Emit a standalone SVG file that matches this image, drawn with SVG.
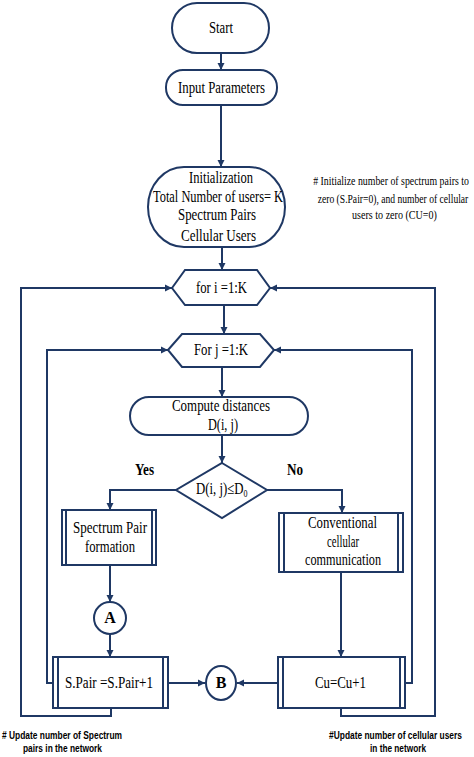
<svg xmlns="http://www.w3.org/2000/svg" width="474" height="757" viewBox="0 0 474 757">
<style>
.s{fill:#fff;stroke:#1f3864;stroke-width:2}
.c{fill:none;stroke:#1f3864;stroke-width:2}
.t{font-family:"Liberation Serif","Times New Roman",serif;font-size:16px;fill:#000;text-anchor:middle}
.n{font-family:"Liberation Serif","Times New Roman",serif;font-size:12px;fill:#000;text-anchor:middle}
.b{font-weight:bold}
.sn{font-family:"Liberation Sans",Arial,sans-serif;font-size:10.5px;font-weight:bold;fill:#000;text-anchor:middle}
</style>
<defs>
<marker id="ah" markerWidth="8" markerHeight="8" refX="7" refY="4" orient="auto" markerUnits="userSpaceOnUse">
<path d="M0,0.5 L7,4 L0,7.5 Z" fill="#1f3864"/>
</marker>
</defs>
<rect width="474" height="757" fill="#fff"/>
<g id="connectors" class="c" marker-end="url(#ah)">
<line x1="221" y1="53" x2="221" y2="70"/>
<line x1="221" y1="105" x2="221" y2="167"/>
<line x1="222" y1="247" x2="222" y2="270"/>
<line x1="224" y1="305" x2="224" y2="334"/>
<line x1="222" y1="367" x2="222" y2="397"/>
<line x1="222" y1="435" x2="222" y2="463"/>
<polyline points="176,490 110,490 110,510"/>
<polyline points="267,490 342,490 342,513"/>
<line x1="110" y1="565" x2="110" y2="602"/>
<line x1="110" y1="634" x2="110" y2="657"/>
<line x1="341" y1="572" x2="341" y2="657"/>
<line x1="168" y1="683" x2="205" y2="683"/>
<line x1="278" y1="683" x2="237" y2="683"/>
<polyline points="53,683 47,683 47,350 168,350"/>
<polyline points="405,683 412,683 412,350 274,350"/>
<polyline points="111,708 111,716 21,716 21,288 172,288"/>
<polyline points="341,708 341,716 435,716 435,288 270,288"/>
</g>
<g id="start">
<rect class="s" x="172" y="3" width="97" height="50" rx="25"/>
<text class="t" x="221" y="33" textLength="24" lengthAdjust="spacingAndGlyphs">Start</text>
</g>
<g id="input">
<rect class="s" x="166" y="70" width="111" height="35" rx="17"/>
<text class="t" x="221.5" y="93" textLength="87" lengthAdjust="spacingAndGlyphs">Input Parameters</text>
</g>
<g id="init">
<rect class="s" x="148" y="167" width="137" height="80" rx="36" ry="40"/>
<text class="t" x="221" y="183" textLength="64" lengthAdjust="spacingAndGlyphs">Initialization</text>
<text class="t" x="218" y="202" textLength="130" lengthAdjust="spacingAndGlyphs">Total Number of users= K</text>
<text class="t" x="217" y="220" textLength="78" lengthAdjust="spacingAndGlyphs">Spectrum Pairs</text>
<text class="t" x="218.5" y="241" textLength="75" lengthAdjust="spacingAndGlyphs">Cellular Users</text>
</g>
<g id="init-note">
<text class="n" transform="translate(391,185) scale(0.82,1)"># Initialize number of spectrum pairs to</text>
<text class="n" transform="translate(393,203) scale(0.8,1)">zero (S.Pair=0), and number of cellular</text>
<text class="n" transform="translate(394.5,219) scale(0.84,1)">users to zero (CU=0)</text>
</g>
<g id="for-i">
<polygon class="s" points="172,288 185,270 257,270 270,288 257,305 185,305"/>
<text class="t" x="221.5" y="293" textLength="51" lengthAdjust="spacingAndGlyphs">for i =1:K</text>
</g>
<g id="for-j">
<polygon class="s" points="168,350 182,334 260,334 274,350 260,367 182,367"/>
<text class="t" x="221" y="355" textLength="54" lengthAdjust="spacingAndGlyphs">For j =1:K</text>
</g>
<g id="compute">
<rect class="s" x="130" y="397" width="178" height="38" rx="19"/>
<text class="t" x="221" y="411" textLength="98" lengthAdjust="spacingAndGlyphs">Compute distances</text>
<text class="t" x="223" y="430" textLength="30" lengthAdjust="spacingAndGlyphs">D(i, j)</text>
</g>
<g id="decision">
<polygon class="s" points="222,463 267,490 222,518 176,490"/>
<text class="t" transform="translate(196,494) scale(0.8,1)" style="text-anchor:start">D(i, j)≤D<tspan font-size="10" dy="3">0</tspan></text>
<text class="t b" x="144.5" y="475" textLength="19" lengthAdjust="spacingAndGlyphs">Yes</text>
<text class="t b" x="295" y="475" textLength="16" lengthAdjust="spacingAndGlyphs">No</text>
</g>
<g id="spectrum-pair">
<rect class="s" x="62" y="510" width="94" height="55"/>
<line class="c" x1="66" y1="510" x2="66" y2="565"/>
<line class="c" x1="152" y1="510" x2="152" y2="565"/>
<text class="t" x="110" y="533" textLength="74" lengthAdjust="spacingAndGlyphs">Spectrum Pair</text>
<text class="t" x="110" y="552" textLength="50" lengthAdjust="spacingAndGlyphs">formation</text>
</g>
<g id="conventional">
<rect class="s" x="279" y="513" width="124" height="59"/>
<line class="c" x1="284" y1="513" x2="284" y2="572"/>
<line class="c" x1="398" y1="513" x2="398" y2="572"/>
<text class="t" x="342.5" y="528" textLength="69" lengthAdjust="spacingAndGlyphs">Conventional</text>
<text class="t" x="343" y="547" textLength="32" lengthAdjust="spacingAndGlyphs">cellular</text>
<text class="t" x="343" y="565" textLength="76" lengthAdjust="spacingAndGlyphs">communication</text>
</g>
<g id="connector-a">
<circle class="s" cx="110" cy="618" r="16"/>
<text class="t b" x="110" y="623">A</text>
</g>
<g id="spair">
<rect class="s" x="53" y="657" width="115" height="51"/>
<line class="c" x1="58" y1="657" x2="58" y2="708"/>
<line class="c" x1="163" y1="657" x2="163" y2="708"/>
<text class="t" x="109" y="688" textLength="88" lengthAdjust="spacingAndGlyphs">S.Pair =S.Pair+1</text>
</g>
<g id="connector-b">
<ellipse class="s" cx="221" cy="683" rx="15" ry="17"/>
<text class="t b" x="221" y="688">B</text>
</g>
<g id="cu">
<rect class="s" x="278" y="657" width="127" height="51"/>
<line class="c" x1="283" y1="657" x2="283" y2="708"/>
<line class="c" x1="400" y1="657" x2="400" y2="708"/>
<text class="t" x="340.5" y="688" textLength="51" lengthAdjust="spacingAndGlyphs">Cu=Cu+1</text>
</g>
<g id="notes-bottom">
<text class="sn" x="62" y="739" textLength="120" lengthAdjust="spacingAndGlyphs"># Update number of Spectrum</text>
<text class="sn" x="62.5" y="752" textLength="79" lengthAdjust="spacingAndGlyphs">pairs in the network</text>
<text class="sn" transform="translate(395.5,739) scale(0.8,1)">#Update number of cellular users</text>
<text class="sn" x="398" y="752" textLength="56" lengthAdjust="spacingAndGlyphs">in the network</text>
</g>
</svg>
